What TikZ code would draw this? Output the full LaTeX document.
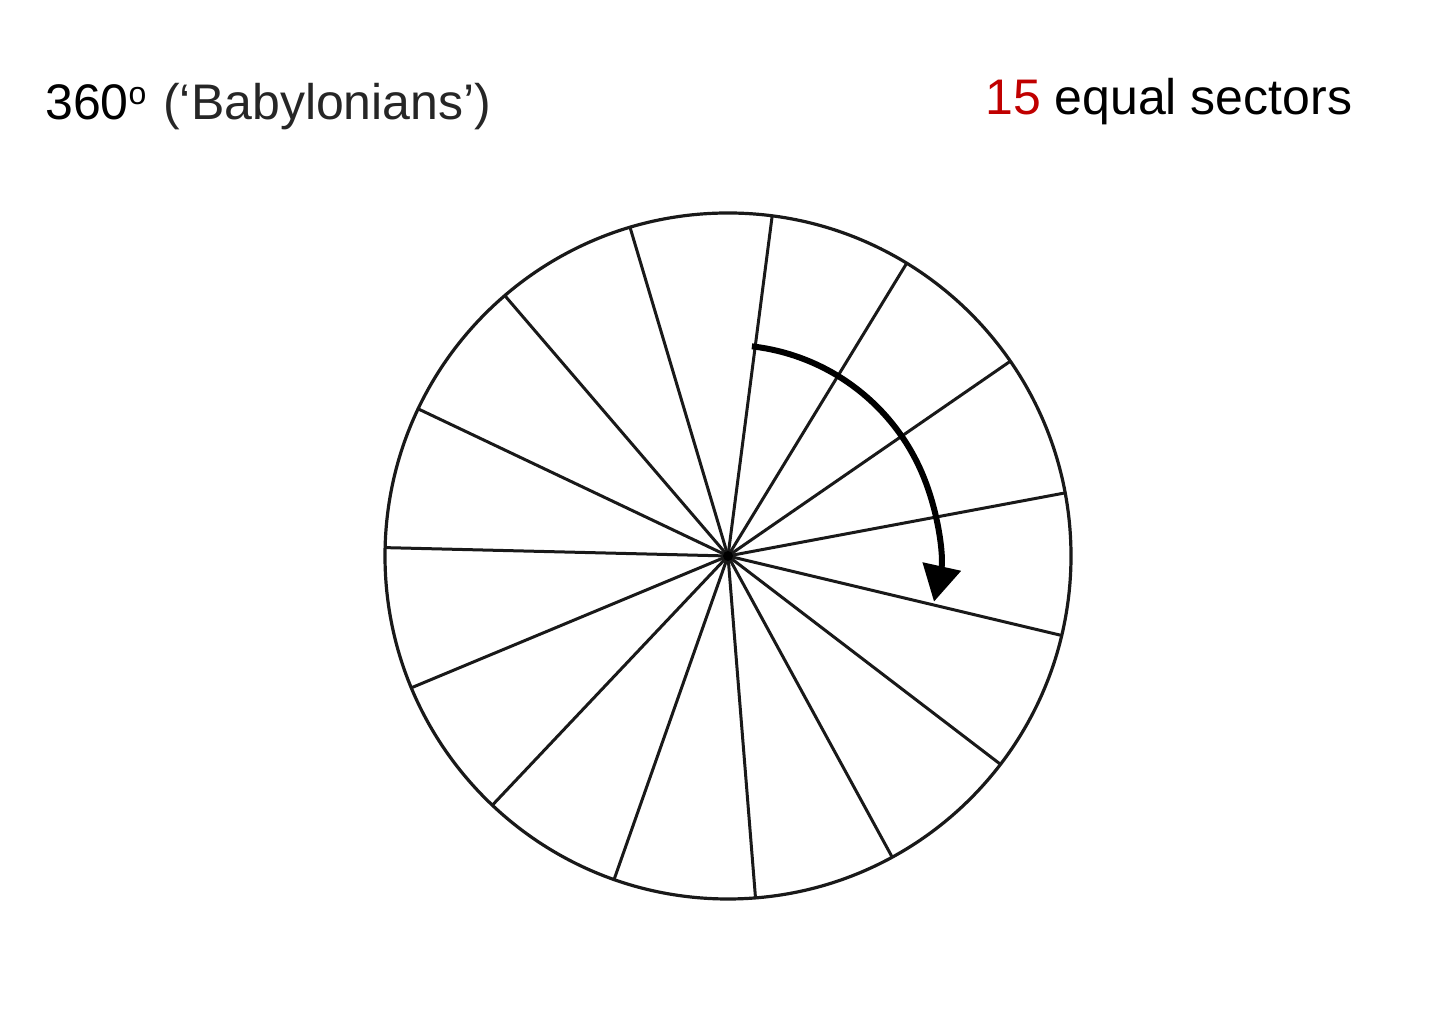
\documentclass[tikz,border=0pt]{standalone}
\usepackage{fontspec}
\setmainfont{Liberation Sans}
\usetikzlibrary{arrows.meta,calc}
\definecolor{numred}{HTML}{C00000}
\begin{document}
\begin{tikzpicture}[x=1pt,y=1pt,
  spoke/.style={line width=3pt,black!90},
  rim/.style={line width=3.2pt,black!90},
  turn/.style={line width=6pt,-{Triangle[length=36pt,width=38pt]}},
  label/.style={inner sep=0pt,font=\fontsize{50}{58}\selectfont}]
\useasboundingbox (0,0) rectangle (1440,1024);
\coordinate (c) at (728,468);
\foreach \k in {0,...,14}{
  \draw[spoke] (c) -- ($(c)+({82.6+24*\k}:343)$);
}
\draw[rim] (c) circle[radius=343];
\fill[black] (c) circle[radius=5];
\coordinate (s) at ($(c)+(83.5:211)$);
\draw[turn] (s) arc[start angle=83.5,end angle=-12.5,radius=211];
\node[label,anchor=base west] (t1) at (45,904) {360{\fontsize{32}{32}\selectfont\raisebox{15pt}{o}}\hspace{3pt} \textcolor{black!85}{(‘Babylonians’)}};
\node[label,anchor=base west] (t2) at (985,909) {\textcolor{numred}{15} equal sectors};
\end{tikzpicture}
\end{document}
